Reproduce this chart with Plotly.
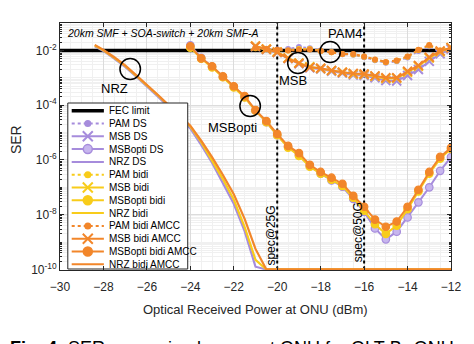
import numpy as np
import plotly.graph_objects as go

# ---------------- data (SER given as log10 values) ----------------
p_nrz = [-28.4, -28, -27.5, -27, -26.5, -26, -25.5, -25, -24.5, -24, -23.5, -23,
         -22.5, -22, -21.5, -21, -20.5, -20, -19, -18, -17, -16, -15, -14, -13, -12]
nrz_ds = [-1.85, -2.02, -2.3, -2.6, -2.95, -3.3, -3.68, -4.07, -4.45, -4.85, -5.45, -6.1,
          -6.85, -7.6, -8.6, -9.9, -10, -10, -10, -10, -10, -10, -10, -10, -10, -10]
nrz_bidi = [-1.82, -2.0, -2.27, -2.57, -2.92, -3.27, -3.64, -4.02, -4.4, -4.78, -5.35, -6.0,
            -6.7, -7.45, -8.45, -9.65, -10, -10, -10, -10, -10, -10, -10, -10, -10, -10]
nrz_amcc = [-1.8, -1.98, -2.25, -2.55, -2.9, -3.25, -3.62, -4.0, -4.38, -4.75, -5.3, -5.9,
            -6.55, -7.25, -8.15, -9.25, -10, -10, -10, -10, -10, -10, -10, -10, -10, -10]

p_opti = [-24, -23.5, -23, -22.5, -22, -21.5, -21, -20.5, -20, -19.5, -19, -18.5, -18,
          -17.5, -17, -16.5, -16, -15.5, -15, -14.5, -14, -13.5, -13, -12.5, -12]
opti_ds = [-1.82, -2.27, -2.6, -2.97, -3.33, -3.7, -4.2, -4.62, -5.1, -5.52, -5.82, -6.22, -6.5,
           -6.75, -6.98, -7.42, -7.9, -8.5, -8.9, -8.62, -8.1, -7.55, -7.0, -6.4, -5.9]
opti_bidi = [-1.9, -2.3, -2.62, -2.98, -3.35, -3.72, -4.2, -4.62, -5.1, -5.55, -5.85, -6.25, -6.5,
             -6.72, -6.95, -7.38, -7.85, -8.35, -8.7, -8.4, -7.8, -7.15, -6.5, -5.95, -5.6]
opti_amcc = [-1.85, -2.29, -2.58, -2.95, -3.31, -3.67, -4.18, -4.58, -5.05, -5.49, -5.75, -6.18, -6.44,
             -6.65, -6.87, -7.31, -7.71, -8.18, -8.44, -8.25, -7.71, -7.09, -6.44, -5.89, -5.56]

p_mod = [-21, -20.5, -20, -19.5, -19, -18.5, -18, -17.5, -17, -16.5, -16, -15.5, -15,
         -14.5, -14, -13.5, -13, -12.5, -12]
msb_ds = [-1.86, -1.97, -2.08, -2.3, -2.49, -2.64, -2.68, -2.76, -2.83, -2.9, -2.92, -3.0, -3.1,
          -3.12, -2.92, -2.7, -2.4, -2.12, -1.95]
msb_bidi = [-1.84, -1.95, -2.06, -2.28, -2.46, -2.6, -2.66, -2.74, -2.8, -2.86, -2.88, -2.95, -3.03,
            -3.02, -2.8, -2.58, -2.28, -2.05, -1.9]
msb_amcc = [-1.85, -1.96, -2.07, -2.29, -2.47, -2.62, -2.65, -2.73, -2.8, -2.84, -2.86, -2.93, -3.0,
            -3.0, -2.76, -2.55, -2.25, -2.02, -1.9]
pam_ds = [-1.9, -1.94, -1.97, -1.95, -1.88, -1.92, -2.0, -2.06, -2.14, -2.16, -2.25, -2.36, -2.45,
          -2.4, -2.26, -2.02, -1.85, -2.02, -1.95]
pam_bidi = [-1.92, -1.96, -1.99, -2.0, -1.95, -1.95, -2.02, -2.07, -2.13, -2.15, -2.23, -2.34, -2.43,
            -2.38, -2.23, -1.99, -1.82, -2.0, -1.93]
pam_amcc = [-1.9, -1.95, -1.98, -2.0, -1.98, -1.97, -2.02, -2.07, -2.13, -2.13, -2.22, -2.33, -2.42,
            -2.37, -2.22, -1.98, -1.8, -2.0, -1.93]

fec_limit = 1e-2
fec_span = [-30, -12]
spec_powers = [-20, -16]
spec_labels = ["spec@25G", "spec@50G"]
y_ticks = [-10, -8, -6, -4, -2]
x_ticks = [-30, -28, -26, -24, -22, -20, -18, -16, -14, -12]

PURPLE = "#A68CDC"
PURPLE_FILL = "#C7B6EE"
YELLOW = "#F8CC1A"
ORANGE = "#F2862A"
INK = "#262626"
FONT = "Arial, Liberation Sans, sans-serif"

W, H = 474, 344
L, R, T, B = 60, 461, 23, 270   # plot area in pixels


def ser(v):
    return [10.0 ** e for e in v]


def px(x):
    return (x - L) / (R - L)


def py(y):
    return (B - y) / (B - T)


fig = go.Figure()

# FEC limit and spec markers
fig.add_trace(go.Scatter(x=fec_span, y=[fec_limit, fec_limit], mode="lines",
                         line=dict(color="black", width=3.5), hoverinfo="skip"))
for sp in spec_powers:
    fig.add_trace(go.Scatter(x=[sp, sp], y=[1e-10, 1e-1], mode="lines",
                             line=dict(color="black", width=2, dash="dot"), hoverinfo="skip"))


def pam(x, y, c):
    return go.Scatter(x=x, y=ser(y), mode="lines+markers",
                      line=dict(color=c, width=2, dash="dot"),
                      marker=dict(symbol="circle", size=6, color=c), hoverinfo="skip")


def msb(x, y, c):
    return go.Scatter(x=x, y=ser(y), mode="lines+markers",
                      line=dict(color=c, width=2),
                      marker=dict(symbol="x-thin", size=9, color=c, line=dict(color=c, width=2)),
                      hoverinfo="skip")


def opti(x, y, c, fill):
    return go.Scatter(x=x, y=ser(y), mode="lines+markers",
                      line=dict(color=c, width=2),
                      marker=dict(symbol="circle", size=7.5, color=fill, line=dict(color=c, width=1.2)),
                      hoverinfo="skip")


def nrz(x, y, c):
    return go.Scatter(x=x, y=ser(y), mode="lines", line=dict(color=c, width=2.2), hoverinfo="skip")


fig.add_trace(pam(p_mod, pam_ds, PURPLE))
fig.add_trace(msb(p_mod, msb_ds, PURPLE))
fig.add_trace(opti(p_opti, opti_ds, PURPLE, PURPLE_FILL))
fig.add_trace(nrz(p_nrz, nrz_ds, PURPLE))
fig.add_trace(pam(p_mod, pam_bidi, YELLOW))
fig.add_trace(msb(p_mod, msb_bidi, YELLOW))
fig.add_trace(opti(p_opti, opti_bidi, YELLOW, YELLOW))
fig.add_trace(nrz(p_nrz, nrz_bidi, YELLOW))
fig.add_trace(pam(p_mod, pam_amcc, ORANGE))
fig.add_trace(msb(p_mod, msb_amcc, ORANGE))
fig.add_trace(opti(p_opti, opti_amcc, ORANGE, ORANGE))
fig.add_trace(nrz(p_nrz, nrz_amcc, ORANGE))

# ---------------- legend drawn on a pixel-scaled overlay ----------------
legend_rows = [
    ("FEC limit", "black", "solid", None),
    ("PAM DS", PURPLE, "dot", "dot"),
    ("MSB DS", PURPLE, "solid", "x"),
    ("MSBopti DS", PURPLE, "solid", "o"),
    ("NRZ DS", PURPLE, "solid", None),
    ("PAM bidi", YELLOW, "dot", "dot"),
    ("MSB bidi", YELLOW, "solid", "x"),
    ("MSBopti bidi", YELLOW, "solid", "o"),
    ("NRZ bidi", YELLOW, "solid", None),
    ("PAM bidi AMCC", ORANGE, "dot", "dot"),
    ("MSB bidi AMCC", ORANGE, "solid", "x"),
    ("MSBopti bidi AMCC", ORANGE, "solid", "o"),
    ("NRZ bidi AMCC", ORANGE, "solid", None),
]
bx0, bx1, by0, by1 = 68, 191, 103, 269
fig.add_trace(go.Scatter(x=[bx0, bx1, bx1, bx0, bx0], y=[by0, by0, by1, by1, by0],
                         xaxis="x2", yaxis="y2", mode="lines", fill="toself",
                         fillcolor="white", line=dict(color=INK, width=1), hoverinfo="skip"))
annotations = []
for i, (name, col, dash, mk) in enumerate(legend_rows):
    yy = 110.7 + 12.8 * i
    fig.add_trace(go.Scatter(x=[72, 105], y=[yy, yy], xaxis="x2", yaxis="y2", mode="lines",
                             line=dict(color=col, width=3.5 if name == "FEC limit" else 2, dash=dash),
                             hoverinfo="skip"))
    if mk == "dot":
        m = dict(symbol="circle", size=7, color=col)
    elif mk == "x":
        m = dict(symbol="x-thin", size=10, color=col, line=dict(color=col, width=2))
    elif mk == "o":
        m = dict(symbol="circle", size=9, color=PURPLE_FILL if col == PURPLE else col,
                 line=dict(color=col, width=1.5))
    else:
        m = None
    if m:
        fig.add_trace(go.Scatter(x=[88.5], y=[yy], xaxis="x2", yaxis="y2", mode="markers",
                                 marker=m, hoverinfo="skip"))
    annotations.append(dict(x=px(108), y=py(yy), xref="paper", yref="paper", text=name,
                            showarrow=False, xanchor="left", yanchor="middle",
                            font=dict(size=10, color="black", family=FONT)))


# ---------------- labels (positions in pixels, converted to paper) ----------------
def lab(x, y, text, size=13, color="black", xanchor="center", yanchor="middle", **kw):
    d = dict(x=px(x), y=py(y), xref="paper", yref="paper", text=text, showarrow=False,
             xanchor=xanchor, yanchor=yanchor,
             font=dict(size=size, color=color, family=FONT))
    d.update(kw)
    annotations.append(d)


lab(65, 33, "<i>20km SMF + SOA-switch + 20km SMF-A</i>", size=10.5, xanchor="left")
lab(116, 88, "NRZ")
lab(237, 127, "MSBopti")
lab(299, 80, "MSB")
lab(352, 34, "PAM4")
lab(276, 236, spec_labels[0], size=12, textangle=-90)
lab(366, 232, spec_labels[1], size=12, textangle=-90)
lab(261, 309, "Optical Received Power at ONU (dBm)", size=13, color=INK)
lab(15, 140, "SER", size=14, color=INK, textangle=-90)
lab(7, 336, "<b>Fig. 4:</b> SER vs received power at ONU for OLT-B--ONU", size=18,
    xanchor="left", yanchor="top")

circles = [(132, 69, 10.5), (255, 106, 10.5), (304, 63, 10.5), (337, 52, 10.5)]
shapes = [dict(type="circle", xref="x2", yref="y2", x0=cx - r, x1=cx + r, y0=cy - r, y1=cy + r,
               line=dict(color="black", width=1.5)) for cx, cy, r in circles]

fig.update_layout(
    width=W, height=H, margin=dict(l=L, r=W - R, t=T, b=H - B),
    paper_bgcolor="white", plot_bgcolor="white", showlegend=False,
    font=dict(family=FONT, color=INK),
    annotations=annotations, shapes=shapes,
    xaxis=dict(range=[-30, -12], tickvals=x_ticks, ticks="inside", ticklen=4, tickcolor=INK,
               showline=True, linecolor=INK, linewidth=1, mirror="ticks",
               showgrid=True, gridcolor="#DCDCDC", gridwidth=1, zeroline=False,
               tickfont=dict(size=12, color=INK), ticklabelstandoff=6,
               minor=dict(dtick=0.5, showgrid=True, gridcolor="#F0F0F0", ticks="")),
    yaxis=dict(type="log", range=[-10.02, -1], tickvals=[10.0 ** e for e in y_ticks],
               ticktext=["10<sup>%d</sup>" % e for e in y_ticks],
               ticks="inside", ticklen=4, tickcolor=INK,
               showline=True, linecolor=INK, linewidth=1, mirror="ticks",
               showgrid=True, gridcolor="#DCDCDC", gridwidth=1, zeroline=False,
               tickfont=dict(size=12, color=INK),
               minor=dict(dtick="D1", showgrid=True, gridcolor="#F0F0F0", ticks="inside",
                          ticklen=2, tickcolor=INK)),
    xaxis2=dict(range=[L, R], overlaying="x", anchor="y2", visible=False, fixedrange=True),
    yaxis2=dict(range=[B, T], overlaying="y", anchor="x2", visible=False, fixedrange=True),
)

fig.write_html("out.html")
